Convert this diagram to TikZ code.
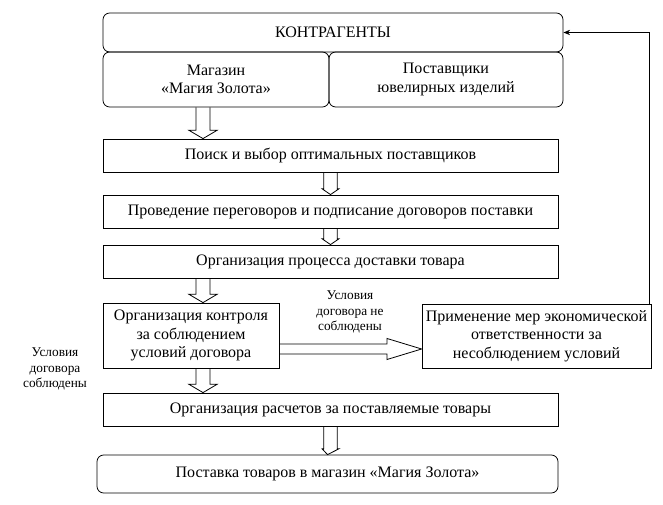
\documentclass[tikz,border=0pt]{standalone}
\usepackage{fontspec}
\setmainfont{Liberation Serif}
\usetikzlibrary{calc, arrows.meta}

\begin{document}
\begin{tikzpicture}[x=0.75pt, y=-0.75pt]
% Define styles
\tikzstyle{group} = [rectangle, rounded corners=5pt, draw=black, line width=0.6pt, align=center, font=\fontsize{12}{13.8}\selectfont]
\tikzstyle{stage} = [rectangle, draw=black, line width=0.6pt, align=center, inner sep=1pt, font=\fontsize{12}{13.8}\selectfont]
\tikzstyle{note} = [align=center, font=\fontsize{10}{11.6}\selectfont]
\tikzstyle{bigarrow} = [draw, line width=0.6pt, to path={let \p1=(\tikztostart), \p2=(\tikztotarget) in (\x1-5.25pt,\y1) -- (\x1-5.25pt,\y2+6.25pt) -- (\x1-10.6pt,\y2+6.25pt) -- (\x2,\y2) -- (\x1+10.6pt,\y2+6.25pt) -- (\x1+5.25pt,\y2+6.25pt) -- (\x1+5.25pt,\y1)}]
\tikzstyle{smallarrow} = [draw, line width=0.6pt, to path={let \p1=(\tikztostart), \p2=(\tikztotarget) in (\x1-5pt,\y1) -- (\x1-5pt,\y2+4.3pt) -- (\x1-6.25pt,\y2+4.3pt) -- (\x2,\y2) -- (\x1+6.25pt,\y2+4.3pt) -- (\x1+5pt,\y2+4.3pt) -- (\x1+5pt,\y1)}]
\tikzstyle{sidearrow} = [draw, line width=0.6pt, to path={let \p1=(\tikztostart), \p2=(\tikztotarget) in (\x1,\y1+3.75pt) -- (\x2-26pt,\y1+3.75pt) -- (\x2-26pt,\y1+7.9pt) -- (\x2,\y2) -- (\x2-26pt,\y1-7.9pt) -- (\x2-26pt,\y1-3.75pt) -- (\x1,\y1-3.75pt)}]
\tikzstyle{fbarrow} = [line width=0.6pt, -{Stealth[length=5pt, width=4pt]}]

\useasboundingbox (0,0) rectangle (663,505);

% Draw nodes
\node (contr) [group, minimum width=345pt, minimum height=29.25pt] at (333,32.5) {КОНТРАГЕНТЫ};
\node (mag) [group, minimum width=169.5pt, minimum height=41.25pt] at (216,79.5) {Магазин\\«Магия Золота»};
\node (supp) [group, minimum width=175.5pt, minimum height=41.25pt] at (446,79.5) {Поставщики\\ювелирных изделий};
\node (search) [stage, minimum width=341.25pt, minimum height=24.75pt] at (330.5,155.5) {Поиск и выбор оптимальных поставщиков};
\node (talk) [stage, minimum width=341.25pt, minimum height=24.75pt] at (330.5,211.5) {Проведение переговоров и подписание договоров поставки};
\node (deliv) [stage, minimum width=341.25pt, minimum height=24.75pt] at (330.5,261.5) {Организация процесса доставки товара};
\node (ctrl) [stage, minimum width=132pt, minimum height=48.75pt] at (191,335.5) {Организация контроля\\за соблюдением\\условий договора};
\node (penalty) [stage, minimum width=171.75pt, minimum height=48pt] at (536.5,336) {Применение мер экономической\\ответственности за\\несоблюдением условий};
\node (pay) [stage, minimum width=341.25pt, minimum height=24.75pt] at (330.5,409.5) {Организация расчетов за поставляемые товары};
\node (ship) [group, minimum width=345.75pt, minimum height=28.5pt] at (327.5,474) {Поставка товаров в магазин «Магия Золота»};
\node (nocond) [note] at (350,312) {Условия\\договора не\\соблюдены};
\node (okcond) [note] at (55,369) {Условия\\договора\\соблюдены};
\coordinate (lcol) at (203,0);
\coordinate (hrow) at (0,349);

% Draw arrows
\draw [bigarrow] (mag.south -| lcol) to (search.north -| lcol);
\draw [smallarrow] (search.south) to (talk.north);
\draw [smallarrow] (talk.south) to (deliv.north);
\draw [bigarrow] (deliv.south -| lcol) to (ctrl.north -| lcol);
\draw [bigarrow] (ctrl.south -| lcol) to (pay.north -| lcol);
\draw [smallarrow] (pay.south) to (ship.north);
\draw [sidearrow] (ctrl.east |- hrow) to (penalty.west |- hrow);
\draw [fbarrow] ([xshift=-1.5pt]penalty.north east) |- (contr.east);

\end{tikzpicture}
\end{document}
